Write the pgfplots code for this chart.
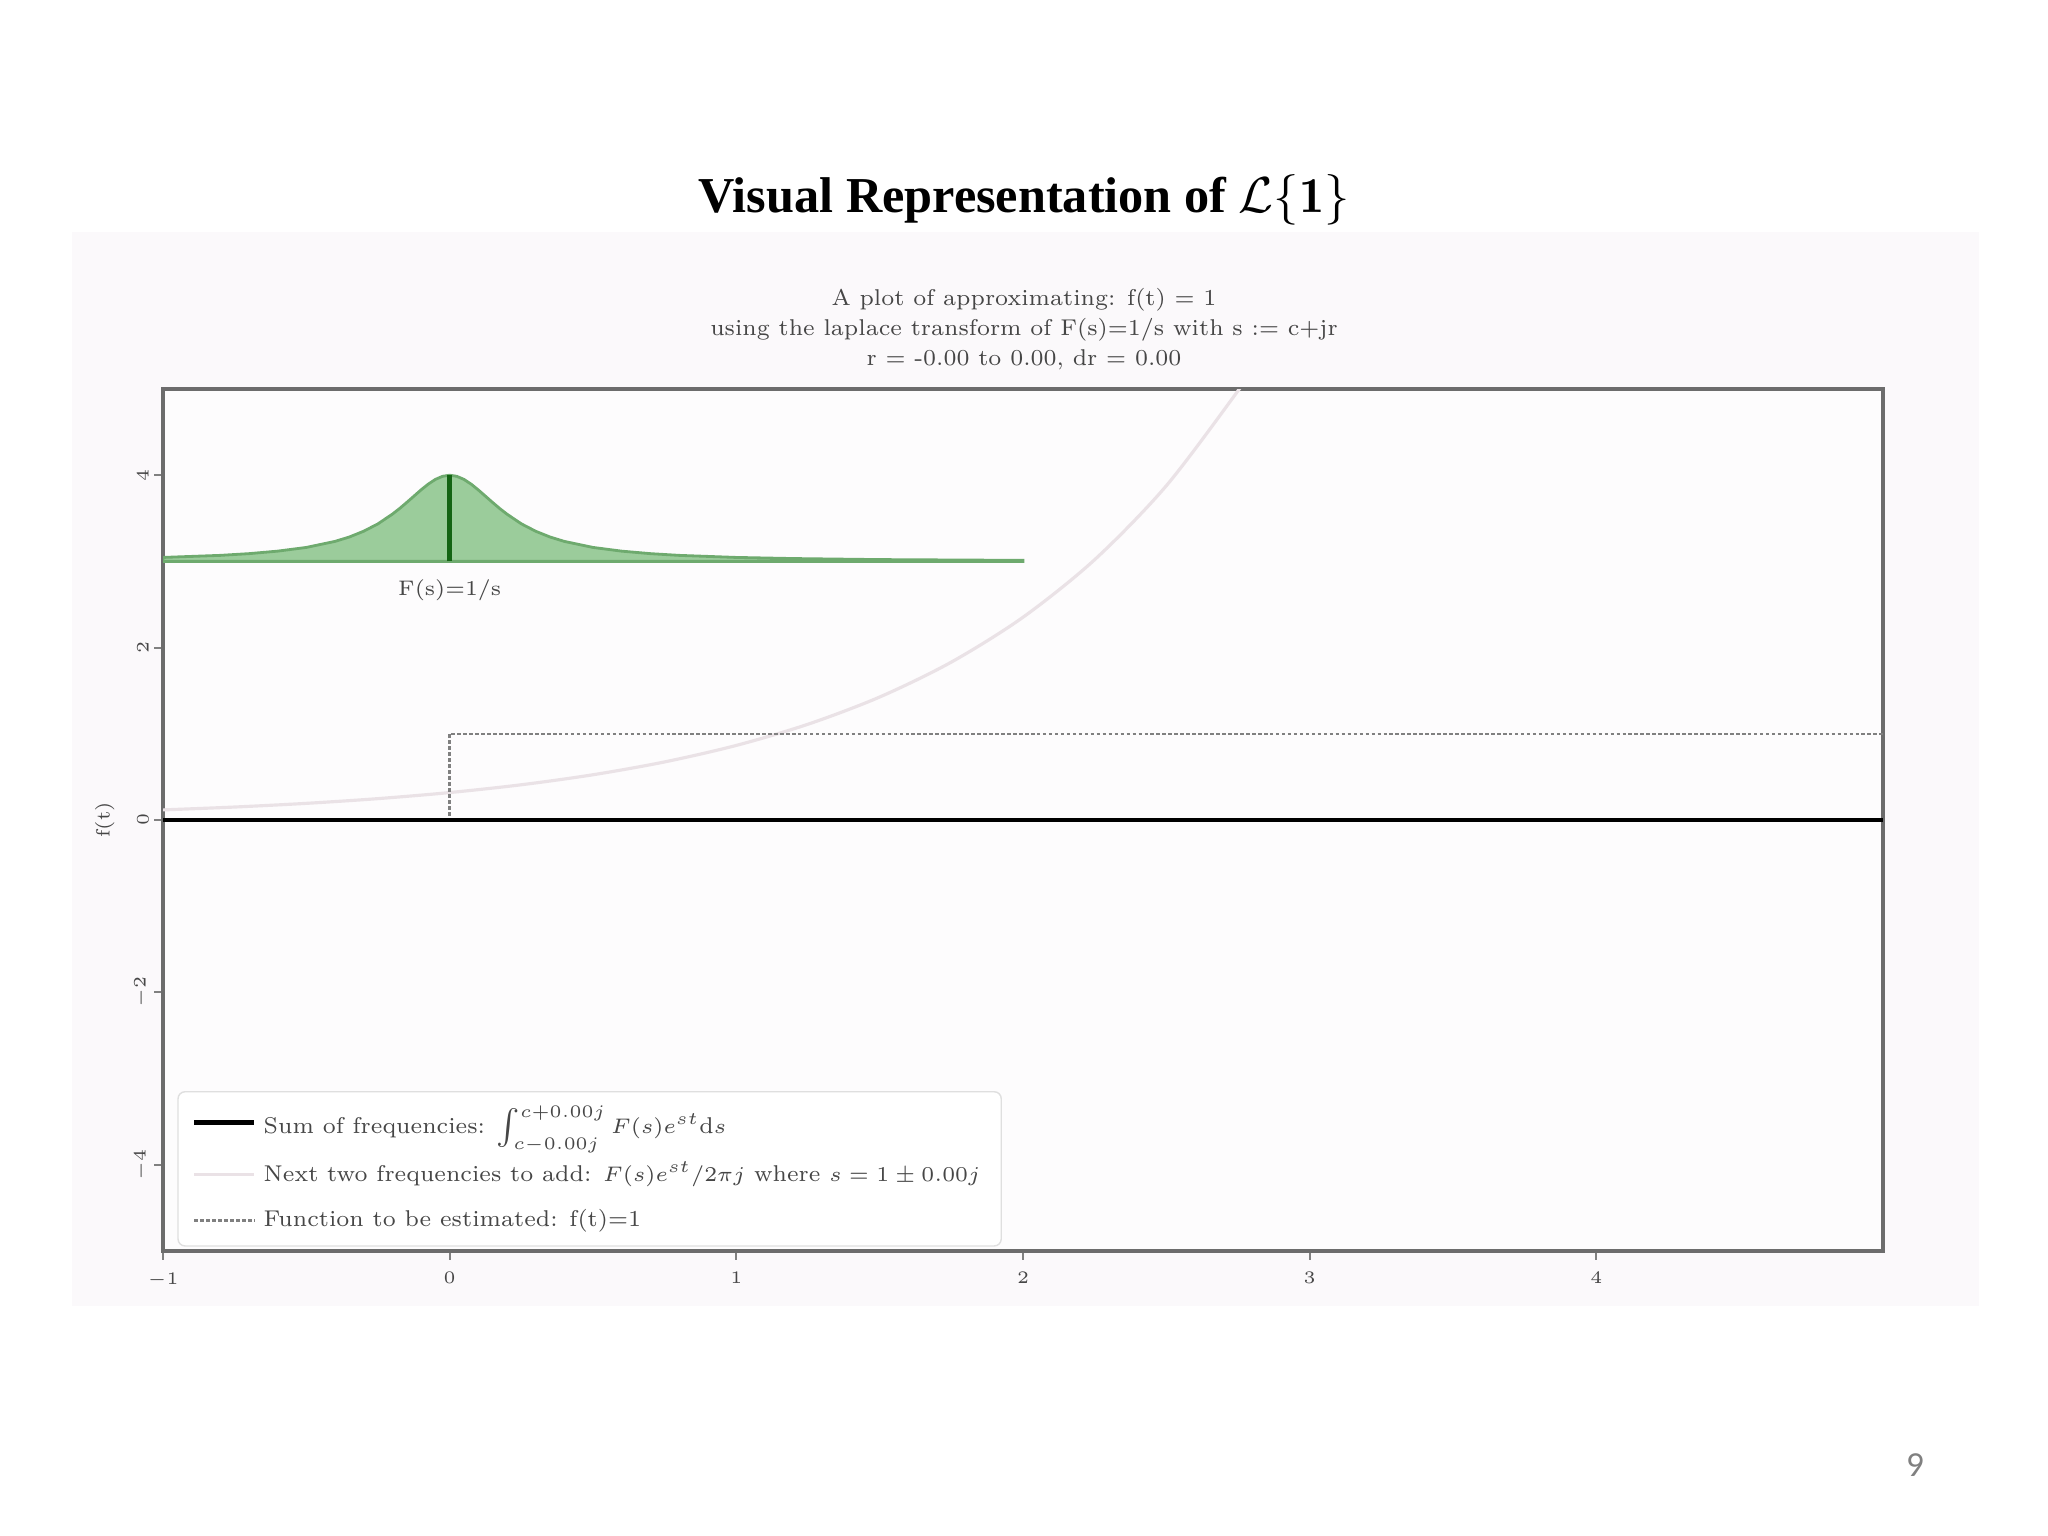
\documentclass[border=0pt]{standalone}
\usepackage{pgfplots}
\pgfplotsset{compat=1.18}
\usepackage{fontspec}
\newfontfamily\titlefont{Liberation Serif}
\newfontfamily\numfont{Carlito}
\definecolor{bgpink}{RGB}{251,249,251}
\definecolor{expc}{RGB}{234,226,230}
\definecolor{gfill}{RGB}{155,204,155}
\definecolor{gline}{RGB}{110,170,110}
\definecolor{gdark}{RGB}{20,100,20}
\definecolor{txtg}{RGB}{70,70,70}
\newcommand{\titletext}{\titlefont\bfseries\fontsize{14.3}{16}\selectfont Visual Representation of $\mathcal{L}\{\mathbf{1}\}$}
\newcommand{\subtext}{A plot of approximating: f(t) = 1\\using the laplace transform of F(s)=1/s with s := c+jr\\r = -0.00 to 0.00, dr = 0.00}
\begin{document}
\begin{tikzpicture}[x=1cm,y=1cm]
\path[use as bounding box] (0,0) rectangle (20.48,15.36);
\fill[bgpink] (0.72,2.30) rectangle (19.79,13.04);
\node at (10.24,13.36) {\titletext};
\node[text=txtg, align=center, font={\fontsize{6.5}{8.6}\selectfont}] at (10.24,12.07) {\subtext};
\node[text=gray] at (19.15,0.71) {\numfont\fontsize{10}{12}\selectfont 9};
\begin{axis}[
  scale only axis, width=17.2cm, height=8.62cm,
  at={(1.63cm,2.85cm)}, anchor=south west,
  xmin=-1, xmax=5, ymin=-5, ymax=5,
  xtick={-1,0,1,2,3,4}, ytick={-4,-2,0,2,4},
  xtick pos=bottom, ytick pos=left,
  tick align=outside, major tick length=0.09cm,
  tick style={gray, line width=0.6pt},
  axis line style={gray!85!black, line width=1pt},
  ticklabel style={font={\fontsize{5.5}{6}\selectfont}, text=txtg},
  yticklabel style={rotate=90, anchor=south, yshift=-0.07cm},
  ylabel={f(t)}, ylabel style={font={\fontsize{5.5}{6}\selectfont}, text=txtg, at={(axis description cs:-0.021,0.5)}},
  axis background/.style={fill=white!50!bgpink},
  clip=true,
  legend cell align=left,
  legend style={at={(axis cs:-0.95,-4.95)}, anchor=south west, draw=gray!25, rounded corners=2pt,
    font={\fontsize{6.5}{7.5}\selectfont}, text=txtg, inner xsep=4pt, inner ysep=2pt, row sep=2.5pt},
]
\addplot[black, line width=1.3pt] coordinates {(-1,0) (5,0)};
\addlegendentry{Sum of frequencies: $\int_{c-0.00j}^{c+0.00j} F(s)e^{st}\mathrm{d}s$}
\addplot[expc, line width=0.9pt, smooth] coordinates {
(-1,0.1171) (-0.75,0.1504) (-0.5,0.1931) (-0.25,0.2479) (0,0.3183) (0.25,0.4087)
(0.5,0.5248) (0.75,0.6739) (1.0,0.8653) (1.25,1.1110) (1.5,1.4266) (1.75,1.8318)
(2.0,2.3520) (2.25,3.0200) (2.5,3.8778) (2.75,4.9792) (2.8,5.2345)};
\addlegendentry{Next two frequencies to add: $F(s)e^{st}/2\pi j$ where $s=1\pm0.00j$}
\addplot[gray, dash pattern=on 1pt off 0.7pt, line width=0.7pt] coordinates {(0,0.05) (0,1) (5,1)};
\addlegendentry{Function to be estimated: f(t)=1}
\addplot[fill=gfill, draw=gline, line width=0.8pt, forget plot] coordinates {
(-1,3) (-1,3.046) (-0.8,3.070) (-0.7,3.090) (-0.6,3.119) (-0.5,3.162) (-0.4,3.232) (-0.35,3.283) (-0.3,3.350)
(-0.25,3.436) (-0.2,3.548) (-0.175,3.6125) (-0.15,3.683) (-0.125,3.756) (-0.1,3.829) (-0.075,3.896) (-0.05,3.951) (-0.025,3.987) (0,4.0)
(0.025,3.987) (0.05,3.951) (0.075,3.896) (0.1,3.829) (0.125,3.756) (0.15,3.683) (0.175,3.6125) (0.2,3.548) (0.25,3.436) (0.3,3.350)
(0.35,3.283) (0.4,3.232) (0.5,3.162) (0.6,3.119) (0.7,3.090) (0.8,3.070) (1.0,3.046) (1.2,3.033)
(1.5,3.021) (2.0,3.012) (2.0,3)} -- cycle;
\addplot[gdark, line width=1.3pt, forget plot] coordinates {(0,3) (0,4)};
\node[text=txtg, anchor=north, font={\fontsize{6}{7}\selectfont}] at (axis cs:0,2.93) {F(s)=1/s};
\end{axis}
\end{tikzpicture}
\end{document}
